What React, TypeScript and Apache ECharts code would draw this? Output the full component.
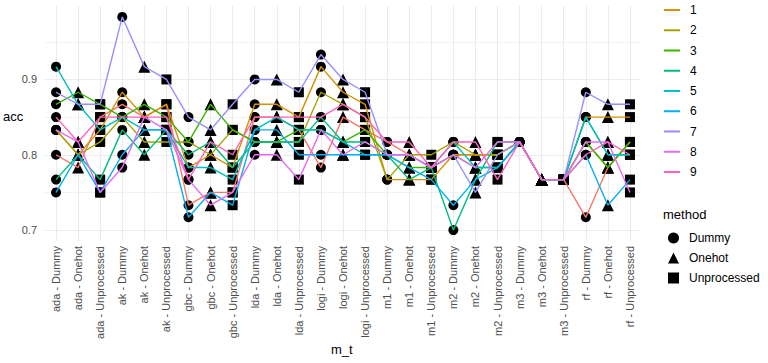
import React, { useEffect, useRef } from 'react';
import * as echarts from 'echarts';

const categories = [
  'ada - Dummy', 'ada - Onehot', 'ada - Unprocessed',
  'ak - Dummy', 'ak - Onehot', 'ak - Unprocessed',
  'gbc - Dummy', 'gbc - Onehot', 'gbc - Unprocessed',
  'lda - Dummy', 'lda - Onehot', 'lda - Unprocessed',
  'logi - Dummy', 'logi - Onehot', 'logi - Unprocessed',
  'm1 - Dummy', 'm1 - Onehot', 'm1 - Unprocessed',
  'm2 - Dummy', 'm2 - Onehot', 'm2 - Unprocessed',
  'm3 - Dummy', 'm3 - Onehot', 'm3 - Unprocessed',
  'rf - Dummy', 'rf - Onehot', 'rf - Unprocessed',
];
const methods = ['Dummy', 'Onehot', 'Unprocessed'];
const seriesNames = ['0', '1', '2', '3', '4', '5', '6', '7', '8', '9'];
const yTickLabels = [0.7, 0.8, 0.9];
const yMinorLines = [0.75, 0.85, 0.95];

const acc0 = [0.8, 0.783, 0.85, 0.867, 0.85, 0.867, 0.733, 0.75, 0.75, 0.85, 0.85, 0.833, 0.783, 0.85, 0.833, 0.817, 0.8, 0.783, 0.8, 0.8, 0.8, 0.817, 0.767, 0.767, 0.717, 0.783, 0.817];
const acc1 = [0.833, 0.8, 0.833, 0.883, 0.85, 0.867, 0.783, 0.8, 0.783, 0.867, 0.867, 0.85, 0.917, 0.883, 0.867, 0.767, 0.767, 0.767, 0.8, 0.8, 0.8, 0.817, 0.767, 0.767, 0.85, 0.85, 0.85];
const acc2 = [0.833, 0.8, 0.817, 0.85, 0.817, 0.817, 0.817, 0.8, 0.833, 0.817, 0.817, 0.817, 0.883, 0.867, 0.85, 0.767, 0.8, 0.8, 0.817, 0.8, 0.8, 0.817, 0.767, 0.767, 0.817, 0.783, 0.817];
const acc3 = [0.867, 0.883, 0.867, 0.85, 0.867, 0.85, 0.817, 0.867, 0.833, 0.817, 0.817, 0.833, 0.833, 0.817, 0.833, 0.8, 0.783, 0.783, 0.8, 0.783, 0.783, 0.817, 0.767, 0.767, 0.817, 0.783, 0.817];
const acc4 = [0.767, 0.8, 0.767, 0.833, 0.8, 0.833, 0.8, 0.817, 0.783, 0.817, 0.817, 0.817, 0.85, 0.817, 0.817, 0.8, 0.767, 0.783, 0.7, 0.767, 0.817, 0.817, 0.767, 0.767, 0.85, 0.8, 0.8];
const acc5 = [0.917, 0.867, 0.833, 0.85, 0.833, 0.833, 0.783, 0.783, 0.767, 0.833, 0.85, 0.833, 0.833, 0.817, 0.8, 0.8, 0.8, 0.783, 0.817, 0.783, 0.783, 0.817, 0.767, 0.767, 0.85, 0.8, 0.8];
const acc6 = [0.75, 0.8, 0.75, 0.8, 0.833, 0.833, 0.717, 0.75, 0.733, 0.833, 0.833, 0.8, 0.8, 0.8, 0.8, 0.8, 0.783, 0.767, 0.733, 0.767, 0.783, 0.817, 0.767, 0.767, 0.8, 0.733, 0.767];
const acc7 = [0.883, 0.867, 0.867, 0.983, 0.917, 0.9, 0.85, 0.833, 0.867, 0.9, 0.9, 0.883, 0.933, 0.9, 0.883, 0.8, 0.8, 0.783, 0.8, 0.75, 0.8, 0.817, 0.767, 0.767, 0.883, 0.867, 0.867];
const acc8 = [0.833, 0.817, 0.75, 0.783, 0.85, 0.833, 0.767, 0.733, 0.75, 0.8, 0.8, 0.767, 0.833, 0.8, 0.817, 0.8, 0.8, 0.783, 0.8, 0.783, 0.817, 0.817, 0.767, 0.767, 0.817, 0.817, 0.75];
const acc9 = [0.85, 0.817, 0.85, 0.85, 0.85, 0.85, 0.767, 0.817, 0.8, 0.85, 0.85, 0.85, 0.85, 0.867, 0.85, 0.817, 0.817, 0.783, 0.817, 0.817, 0.767, 0.817, 0.767, 0.767, 0.8, 0.817, 0.8];

const palette = ['#F8766D', '#D89000', '#A3A500', '#39B600', '#00BF7D', '#00BFC4', '#00B0F6', '#9590FF', '#E76BF3', '#FF62BC'];
const FONT = 'Liberation Sans, Arial, Helvetica, sans-serif';

export default function App() {
  const ref = useRef<HTMLDivElement>(null);
  useEffect(() => {
    if (!ref.current) return;
    const chart = echarts.init(ref.current, null, { renderer: 'svg' });
    const accs = [acc0, acc1, acc2, acc3, acc4, acc5, acc6, acc7, acc8, acc9];
    const shapeOf: Record<string, string> = { Dummy: 'circle', Onehot: 'triangle', Unprocessed: 'rect' };
    const sizeOf: Record<string, number> = { Dummy: 10, Onehot: 12, Unprocessed: 10 };

    const scatterSeries = methods.map((m) => ({
      type: 'scatter',
      name: m,
      symbol: shapeOf[m],
      symbolSize: sizeOf[m],
      itemStyle: { color: '#000000', opacity: 1 },
      z: 2,
      silent: true,
      data: accs.flatMap((a) =>
        a.map((v, j) => [j, v]).filter(([j]) => categories[j as number].split(' - ')[1] === m)
      ),
    }));

    const lineSeries = accs.map((a, k) => ({
      type: 'line',
      name: seriesNames[k],
      data: a,
      showSymbol: false,
      symbol: 'none',
      silent: true,
      z: 3,
      lineStyle: { color: palette[k], width: 1.4 },
      itemStyle: { color: palette[k] },
    }));

    const gridSeries = {
      type: 'line',
      name: 'grid',
      data: categories.map(() => null),
      silent: true,
      z: 0,
      markLine: {
        silent: true,
        z: 0,
        symbol: ['none', 'none'],
        label: { show: false },
        emphasis: { disabled: true },
        lineStyle: { color: '#EBEBEB', width: 1.1, type: 'solid' },
        data: [
          ...yTickLabels.map((v) => ({ yAxis: v })),
          ...yMinorLines.map((v) => ({ yAxis: v, lineStyle: { color: '#F2F2F2', width: 1, type: 'solid' } })),
          ...categories.map((c) => ({ xAxis: c })),
        ],
      },
    };

    chart.setOption({
      animation: false,
      backgroundColor: '#ffffff',
      grid: { left: 45, width: 596, top: 6, height: 235, containLabel: false },
      xAxis: {
        type: 'category',
        data: categories,
        boundaryGap: true,
        axisLine: { show: false },
        axisTick: { show: false },
        splitLine: { show: false },
        axisLabel: {
          interval: 0,
          rotate: 90,
          margin: 5,
          fontSize: 11,
          color: '#4D4D4D',
          fontFamily: FONT,
        },
      },
      yAxis: {
        type: 'value',
        min: 0.6855,
        max: 0.9975,
        axisLine: { show: false },
        axisTick: { show: false },
        splitLine: { show: false },
        axisLabel: {
          customValues: yTickLabels,
          formatter: (v: number) => String(Math.round(v * 10) / 10),
          margin: 8,
          fontSize: 11,
          color: '#4D4D4D',
          fontFamily: FONT,
        },
      },
      legend: [
        {
          data: seriesNames.slice(1),
          orient: 'vertical',
          left: 664,
          top: 3,
          padding: 0,
          icon: 'rect',
          itemWidth: 16,
          itemHeight: 2,
          itemGap: 6.25,
          selectedMode: false,
          textStyle: { fontSize: 12, color: '#000', lineHeight: 14, fontFamily: FONT, padding: [0, 0, 0, 5] },
        },
        {
          data: methods,
          orient: 'vertical',
          left: 668,
          top: 231,
          padding: 0,
          itemWidth: 11,
          itemHeight: 11,
          itemGap: 6,
          selectedMode: false,
          textStyle: { fontSize: 12, color: '#000', lineHeight: 14, fontFamily: FONT, padding: [0, 0, 0, 5] },
        },
      ],
      graphic: [
        { type: 'text', left: 3, top: 110, style: { text: 'acc', fontSize: 13, fill: '#000', fontFamily: FONT } },
        { type: 'text', left: 331, top: 343, style: { text: 'm_t', fontSize: 13, fill: '#000', fontFamily: FONT } },
        { type: 'text', left: 663, top: 208, style: { text: 'method', fontSize: 13, fill: '#000', fontFamily: FONT } },
      ],
      series: [gridSeries, ...scatterSeries, ...lineSeries],
    });
    return () => chart.dispose();
  }, []);
  return <div ref={ref} style={{ position: 'fixed', left: 0, top: 0, width: 768, height: 363 }} />;
}
